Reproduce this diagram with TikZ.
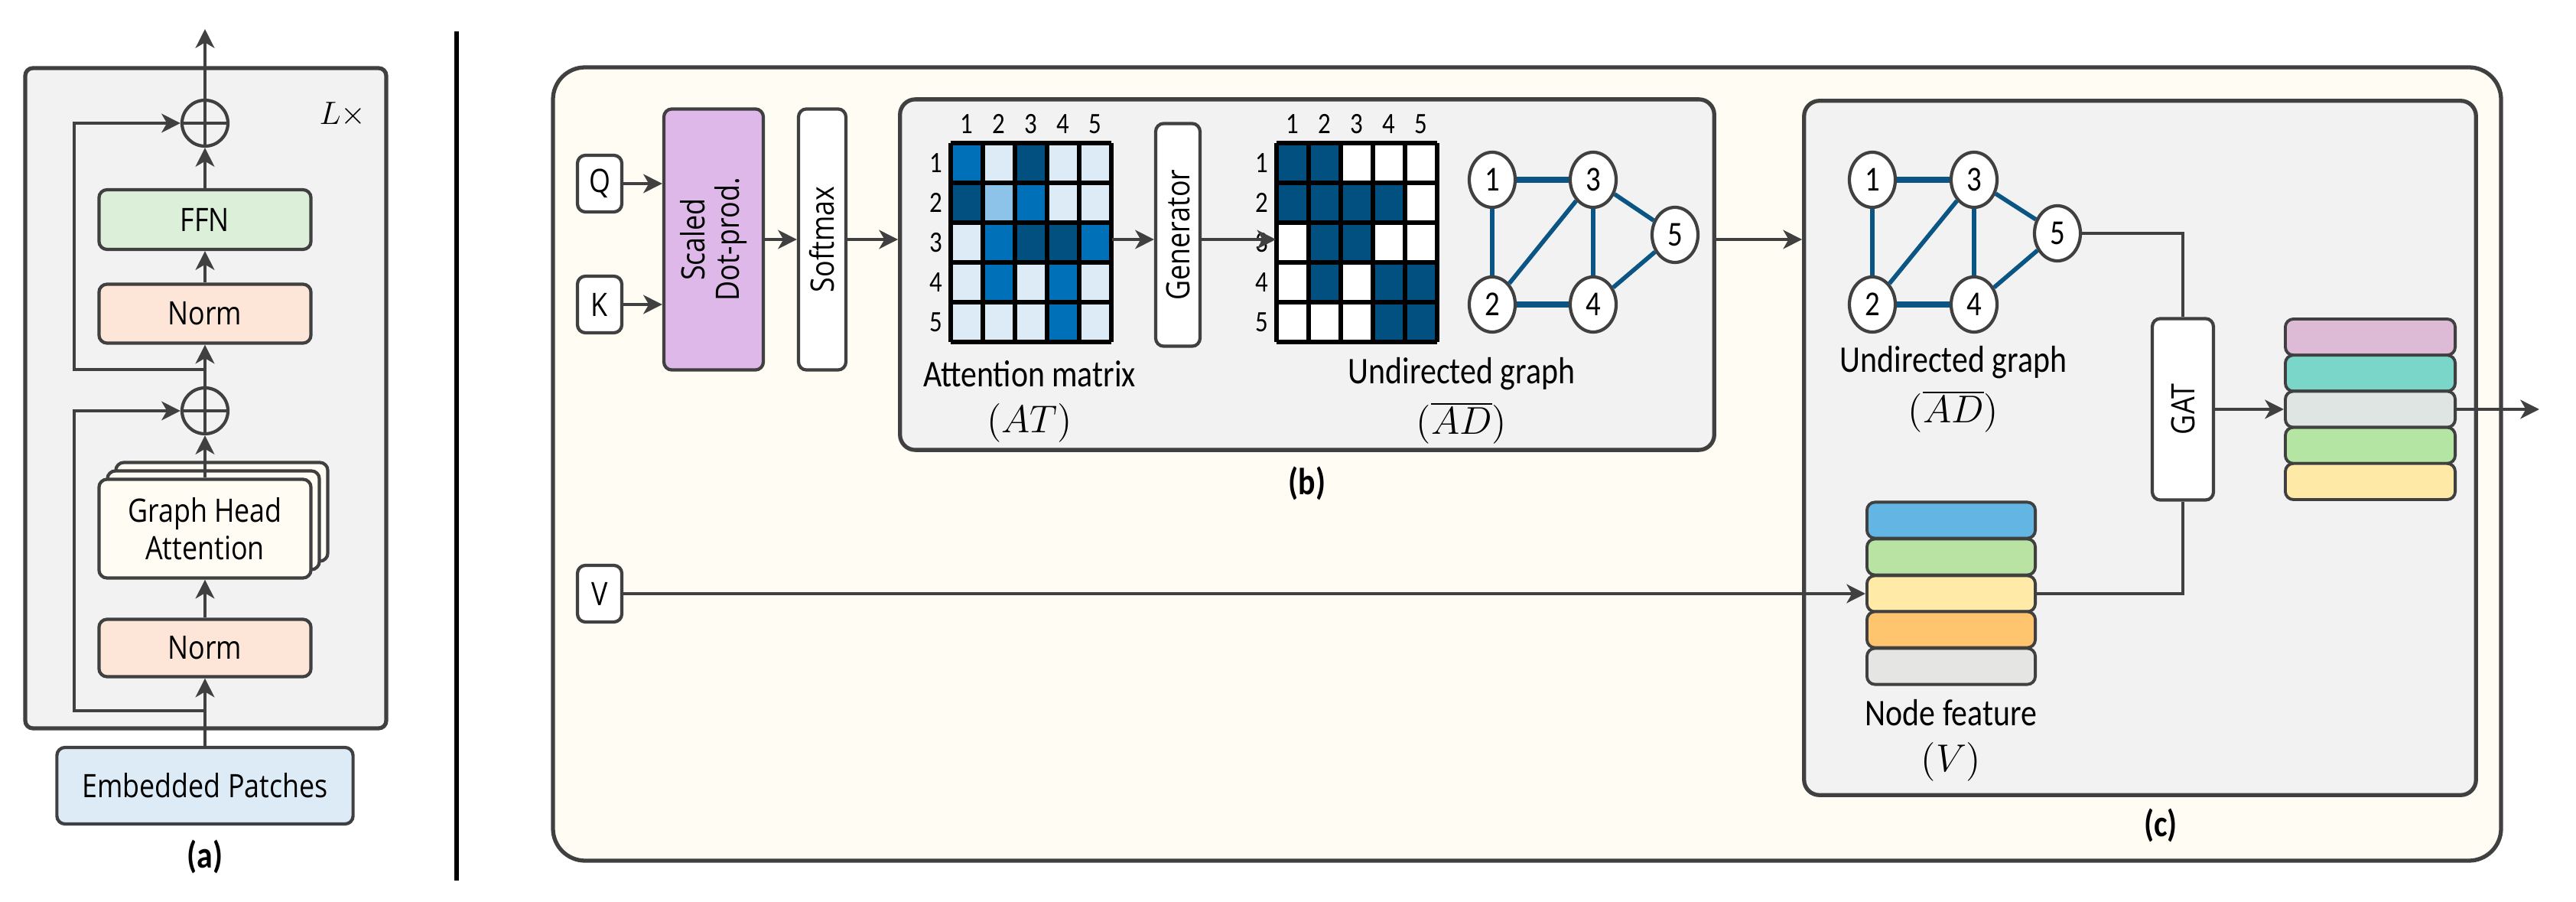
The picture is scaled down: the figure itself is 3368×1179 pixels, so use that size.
\documentclass[tikz,border=0pt]{standalone}
\usepackage{fontspec}
\setmainfont{Open Sans}[FakeStretch=0.85]
\newfontfamily\capf{Carlito}[FakeStretch=0.85]
\usetikzlibrary{arrows.meta,shapes.geometric}
\definecolor{lc}{HTML}{404040}
\definecolor{pgray}{HTML}{F2F2F2}
\definecolor{pcream}{HTML}{FFFCF3}
\definecolor{lav}{HTML}{DFB8EA}
\definecolor{normc}{HTML}{FDE5D8}
\definecolor{ffnc}{HTML}{DCEFD8}
\definecolor{embc}{HTML}{DDEBF7}
\definecolor{mD}{HTML}{02507F}
\definecolor{mM}{HTML}{0070B8}
\definecolor{mL}{HTML}{DDEBF7}
\definecolor{mK}{HTML}{8DC3E8}
\definecolor{mW}{HTML}{FFFFFF}
\definecolor{eb}{HTML}{0B5585}
\definecolor{oA}{HTML}{DDBAD6}
\definecolor{oB}{HTML}{79D6C8}
\definecolor{oC}{HTML}{DFE5E3}
\definecolor{oD}{HTML}{B5E5A3}
\definecolor{oE}{HTML}{FFE9A6}
\definecolor{fA}{HTML}{63B6E3}
\definecolor{fB}{HTML}{B8E3A3}
\definecolor{fC}{HTML}{FFEAA8}
\definecolor{fD}{HTML}{FFC46E}
\definecolor{fE}{HTML}{E5E5E3}
\tikzset{
  box/.style={draw=lc,line width=1.2pt,rounded corners=3pt,inner sep=0pt,font=\fontsize{12}{14}\selectfont},
  panel/.style={draw=lc,line width=1.5pt,inner sep=0pt},
  arr/.style={draw=lc,line width=1.2pt,-{Stealth[length=7pt,width=7pt,inset=2pt]}},
  ln/.style={draw=lc,line width=1.2pt},
  plus/.style={circle,draw=lc,line width=1.2pt,minimum size=0.6cm,inner sep=0pt},
  gnode/.style={ellipse,draw=lc,fill=white,line width=1.2pt,minimum width=0.6cm,minimum height=0.72cm,inner sep=0pt,font=\capf\fontsize{13}{13}\selectfont},
  ge/.style={draw=eb,line width=1.6pt},
  geh/.style={draw=eb,line width=2.4pt},
  capt/.style={font=\capf\fontsize{14}{16}\selectfont},
  mth/.style={font=\fontsize{14}{16}\selectfont},
  lab/.style={font=\capf\bfseries\fontsize{14}{16}\selectfont},
  num/.style={font=\capf\fontsize{11}{12}\selectfont},
  bar/.style={draw=lc,line width=1.1pt,rounded corners=3pt,inner sep=0pt,minimum height=0.472cm},
}
\begin{document}
\begin{tikzpicture}[x=0.01cm,y=-0.01cm]
\useasboundingbox (0,0) rectangle (3368,1179);
% ---------- (a) ----------
\draw[panel,fill=pgray,rounded corners=0.1cm] (33,89) rectangle (505,952);
\node[box,fill=embc,minimum width=3.87cm,minimum height=1.0cm] (emb) at (268,1027) {Embedded Patches};
\node[box,fill=normc,minimum width=2.77cm,minimum height=0.75cm] (n2) at (268,847) {Norm};
\node[box,fill=pcream,minimum width=2.77cm,minimum height=1.29cm] (gs2) at (290,669) {};
\node[box,fill=pcream,minimum width=2.77cm,minimum height=1.29cm] (gs1) at (279,680) {};
\node[box,fill=pcream,minimum width=2.77cm,minimum height=1.29cm,align=center] (gha) at (268,691) {Graph Head\\Attention};
\node[plus] (c2) at (268,537) {};
\draw[ln] (c2.north) -- (c2.south) (c2.west) -- (c2.east);
\node[box,fill=normc,minimum width=2.77cm,minimum height=0.77cm] (n1) at (268,410) {Norm};
\node[box,fill=ffnc,minimum width=2.77cm,minimum height=0.78cm] (ffn) at (268,287) {FFN};
\node[plus] (c1) at (268,161) {};
\draw[ln] (c1.north) -- (c1.south) (c1.west) -- (c1.east);
\coordinate (atop) at (268,38);
\draw[arr] (emb.north) -- (n2.south);
\draw[arr] (n2.north) -- (gha.south);
\draw[arr] (gha.north) -- (c2.south);
\draw[arr] (c2.north) -- (n1.south);
\draw[arr] (n1.north) -- (ffn.south);
\draw[arr] (ffn.north) -- (c1.south);
\draw[arr] (c1.north) -- (atop);
\coordinate (l2) at (268,929); \coordinate (l2c) at (97,929);
\coordinate (l1) at (268,483); \coordinate (l1c) at (97,483);
\draw[arr] (l2) -- (l2c) |- (c2.west);
\draw[arr] (l1) -- (l1c) |- (c1.west);
\node[font=\fontsize{12}{14}\selectfont] (lx) at (448,150) {$L\times$};
\node[lab] (la) at (268,1120) {(a)};
% divider
\draw[line width=1.6pt,black] (597,41) -- (597,1151);
% ---------- right ----------
\draw[panel,fill=pcream,rounded corners=0.42cm] (723,88) rectangle (3270,1125);
\node[panel,fill=pgray,rounded corners=0.2cm,minimum width=10.64cm,minimum height=4.58cm] (bp) at (1709,359) {};
\node[panel,fill=pgray,rounded corners=0.2cm,minimum width=8.78cm,minimum height=9.07cm] (cp) at (2798,585.5) {};
\node[box,fill=white,minimum width=0.58cm,minimum height=0.74cm] (Q) at (784,240) {Q};
\node[box,fill=white,minimum width=0.58cm,minimum height=0.74cm] (K) at (784,398) {K};
\node[box,fill=white,minimum width=0.58cm,minimum height=0.74cm] (V) at (784,776) {V};
\node[box,fill=lav,minimum width=1.3cm,minimum height=3.41cm] (sdp) at (933,313) {};
\node[rotate=90,align=center,font=\fontsize{12}{13}\selectfont] at (sdp) {Scaled\\Dot-prod.};
\node[box,fill=white,minimum width=0.62cm,minimum height=3.41cm] (soft) at (1075,313) {};
\node[rotate=90,font=\fontsize{12}{13}\selectfont] at (soft) {Softmax};
\draw[arr] (Q.east) -- (Q.east -| sdp.west);
\draw[arr] (K.east) -- (K.east -| sdp.west);
\draw[arr] (sdp.east) -- (soft.west);
\draw[arr] (soft.east) -- (soft.east -| bp.west);
% attention matrix
\node[minimum width=2.1cm,minimum height=2.6cm,inner sep=0pt] (AT) at (1348,317) {};
\foreach \r [count=\i] in {{mM,mL,mD,mL,mL},{mD,mK,mM,mL,mL},{mL,mM,mD,mD,mM},{mL,mM,mL,mM,mL},{mL,mL,mL,mM,mL}}{
  \foreach \c [count=\j] in \r {
    \fill[\c] ({1243+42*(\j-1)},{187+52*(\i-1)}) rectangle ++(42,52);
  }
}
\foreach \i in {0,...,5}{
  \draw[black,line width=1.6pt] ({1243+42*\i},187) -- ({1243+42*\i},447);
  \draw[black,line width=1.6pt] (1243,{187+52*\i}) -- (1453,{187+52*\i});
}
\foreach \k in {1,...,5}{
  \node[num] at ({1264+42*(\k-1)},162) {\k};
  \node[num] at (1224,{213+52*(\k-1)}) {\k};
}
\node[box,fill=white,minimum width=0.58cm,minimum height=2.91cm] (gen) at (1540,307) {};
\node[rotate=90,font=\fontsize{12}{13}\selectfont] at (gen) {Generator};
% binary matrix
\node[minimum width=2.1cm,minimum height=2.6cm,inner sep=0pt] (AD) at (1774,317) {};
\foreach \r [count=\i] in {{mD,mD,mW,mW,mW},{mD,mD,mD,mD,mW},{mW,mD,mD,mW,mW},{mW,mD,mW,mD,mD},{mW,mW,mW,mD,mD}}{
  \foreach \c [count=\j] in \r {
    \fill[\c] ({1669+42*(\j-1)},{187+52*(\i-1)}) rectangle ++(42,52);
  }
}
\foreach \i in {0,...,5}{
  \draw[black,line width=1.6pt] ({1669+42*\i},187) -- ({1669+42*\i},447);
  \draw[black,line width=1.6pt] (1669,{187+52*\i}) -- (1879,{187+52*\i});
}
\foreach \k in {1,...,5}{
  \node[num] at ({1690+42*(\k-1)},162) {\k};
  \node[num] at (1650,{213+52*(\k-1)}) {\k};
}
\draw[arr] (AT.east |- soft.east) -- (gen.west |- soft.east);
\draw[arr] (gen.east |- soft.east) -- (AD.west |- soft.east);
% graph (b)
\node[gnode] (b1) at (1951,235) {1};
\node[gnode] (b3) at (2083,235) {3};
\node[gnode] (b2) at (1951,398) {2};
\node[gnode] (b4) at (2083,398) {4};
\node[gnode] (b5) at (2190,307) {5};
\draw[geh] (b1) -- (b3); \draw[geh] (b2) -- (b4);
\draw[ge] (b1) -- (b2); \draw[ge] (b2) -- (b3); \draw[ge] (b3) -- (b4); \draw[ge] (b3) -- (b5); \draw[ge] (b4) -- (b5);
\node[capt] at (1346,489) {Attention matrix};
\node[mth] at (1346,553) {$(AT)$};
\node[capt] at (1911,489) {Undirected graph};
\node[mth] at (1911,553) {$(\overline{AD})$};
\node[lab] at (1709,632) {(b)};
\draw[arr] (bp.east |- soft.east) -- (cp.west |- soft.east);
% graph (c)
\node[gnode] (c1n) at (2448,235) {1};
\node[gnode] (c3n) at (2581,235) {3};
\node[gnode] (c2n) at (2448,398) {2};
\node[gnode] (c4n) at (2581,398) {4};
\node[gnode] (c5n) at (2690,305) {5};
\draw[geh] (c1n) -- (c3n); \draw[geh] (c2n) -- (c4n);
\draw[ge] (c1n) -- (c2n); \draw[ge] (c2n) -- (c3n); \draw[ge] (c3n) -- (c4n); \draw[ge] (c3n) -- (c5n); \draw[ge] (c4n) -- (c5n);
\node[capt] at (2554,474) {Undirected graph};
\node[mth] at (2554,538) {$(\overline{AD})$};
\node[box,fill=white,minimum width=0.8cm,minimum height=2.37cm] (gat) at (2854,535) {};
\node[rotate=90,font=\fontsize{12}{13}\selectfont] at (gat) {GAT};
\draw[ln] (c5n.east) -| (gat.north);
% output stack
\node[bar,fill=oA,minimum width=2.22cm] (o1) at (3099,440.6) {};
\node[bar,fill=oB,minimum width=2.22cm] (o2) at (3099,487.8) {};
\node[bar,fill=oC,minimum width=2.22cm] (o3) at (3099,535) {};
\node[bar,fill=oD,minimum width=2.22cm] (o4) at (3099,582.2) {};
\node[bar,fill=oE,minimum width=2.22cm] (o5) at (3099,629.4) {};
\coordinate (out) at (3320,535);
\draw[arr] (gat.east) -- (o3.west);
\draw[arr] (o3.east) -- (out);
% node feature
\node[bar,fill=fA,minimum width=2.2cm] (f1) at (2551,680) {};
\node[bar,fill=fB,minimum width=2.2cm] (f2) at (2551,728) {};
\node[bar,fill=fC,minimum width=2.2cm] (f3) at (2551,776) {};
\node[bar,fill=fD,minimum width=2.2cm] (f4) at (2551,823) {};
\node[bar,fill=fE,minimum width=2.2cm] (f5) at (2551,871) {};
\draw[arr] (V.east) -- (V.east -| f3.west);
\draw[ln] (f3.east) -| (gat.south);
\node[capt] at (2551,932) {Node feature};
\node[mth] at (2551,996) {$(V)$};
\node[lab] at (2825,1079) {(c)};
\end{tikzpicture}
\end{document}
